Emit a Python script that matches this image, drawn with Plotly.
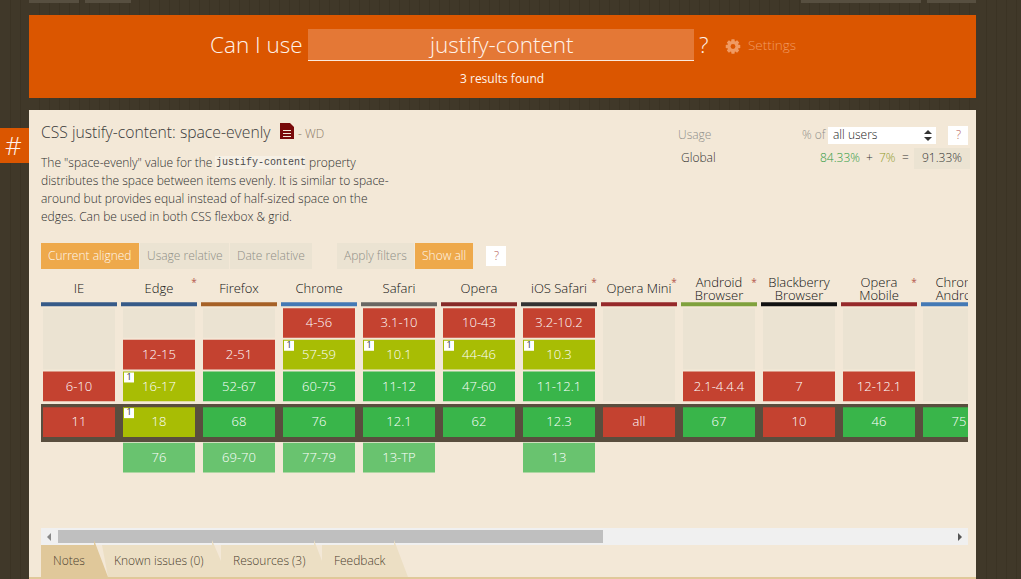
import math
import plotly.graph_objects as go

# browser table, one list per row of the support grid ("" = nothing in that row)
browsers_top = ["", "", "", "", "", "", "", "", "Android", "Blackberry", "Opera", "Chrome"]
browsers_bottom = ["", "", "", "", "", "", "", "", "Browser", "Browser", "Mobile", "Android"]
browsers_single = ["IE", "Edge", "Firefox", "Chrome", "Safari", "Opera", "iOS Safari", "Opera Mini", "", "", "", ""]
browser_stars = [0, 1, 0, 0, 0, 0, 1, 1, 1, 0, 1, 0]
browser_colors = ["#365a88", "#365a88", "#a66126", "#4479b5", "#696763", "#862a28", "#333333",
                  "#96292a", "#7fa13c", "#111111", "#96292a", "#4479b5"]

row1 = ["", "", "", "4-56", "3.1-10", "10-43", "3.2-10.2", "", "", "", "", ""]
row2 = ["", "12-15", "2-51", "57-59", "10.1", "44-46", "10.3", "", "", "", "", ""]
row3 = ["6-10", "16-17", "52-67", "60-75", "11-12", "47-60", "11-12.1", "", "2.1-4.4.4", "7", "12-12.1", ""]
current = ["11", "18", "68", "76", "12.1", "62", "12.3", "all", "67", "10", "46", "75"]
future = ["", "76", "69-70", "77-79", "13-TP", "", "13", "", "", "", "", ""]

status1 = ["", "", "", "n", "n", "n", "n", "", "", "", "", ""]
status2 = ["", "n", "n", "a", "a", "a", "a", "", "", "", "", ""]
status3 = ["n", "a", "y", "y", "y", "y", "y", "", "n", "n", "n", ""]
status_current = ["n", "a", "y", "y", "y", "y", "y", "n", "y", "n", "y", "y"]
status_future = ["", "f", "f", "f", "f", "", "f", "", "", "", "", ""]

rows = [row1, row2, row3, current, future]
statuses = [status1, status2, status3, status_current, status_future]
row_tops = [0, 1, 2, 3.125, 4.25]
cell_h = 30 / 32

status_colors = {"n": "#c44230", "a": "#a8bd04", "y": "#39b54a", "f": "#69c36f"}
BLANK = "#ebe3d2"
PANEL = "#f3e8d7"
DARK = "#403829"
ORANGE = "#db5600"
INK = "#3b3b3b"
FONT = "Open Sans"
LIGHT = 300

fig = go.Figure()

# empty stretches of a column merge into one pale block
blank_x, blank_base, blank_h = [], [], []
for col in range(len(browsers_single)):
    run = 0
    for r in range(3):
        if rows[r][col] == "":
            run += 1
    if run:
        blank_x.append(col)
        blank_base.append(0)
        blank_h.append(run - 2 / 32)
fig.add_trace(go.Bar(x=blank_x, y=blank_h, base=blank_base, width=0.9, marker_color=BLANK,
                     marker_line_width=0, xaxis="x2", yaxis="y2", hoverinfo="skip"))

# version cells, one bar trace per support status
for key, color in status_colors.items():
    xs, tops = [], []
    for r, st in enumerate(statuses):
        for col, s in enumerate(st):
            if s == key:
                xs.append(col)
                tops.append(row_tops[r])
    fig.add_trace(go.Bar(x=xs, y=[cell_h] * len(xs), base=tops, width=0.9, marker_color=color,
                         marker_line_width=0, xaxis="x2", yaxis="y2", hoverinfo="skip"))

# coloured strip under each browser name
fig.add_trace(go.Bar(x=list(range(12)), y=[4 / 32] * 12, base=[-6 / 32] * 12, width=0.95,
                     marker_color=browser_colors, marker_line_width=0,
                     xaxis="x2", yaxis="y2", hoverinfo="skip"))

# version labels
txt_x, txt_y, txt = [], [], []
for r, labels in enumerate(rows):
    for col, lab in enumerate(labels):
        if lab:
            txt_x.append(col)
            txt_y.append(row_tops[r] + cell_h / 2 + 1 / 32)
            txt.append(lab)
fig.add_trace(go.Scatter(x=txt_x, y=txt_y, text=txt, mode="text", xaxis="x2", yaxis="y2",
                         textfont=dict(family=FONT, size=13, color="#ffffff", weight=LIGHT), hoverinfo="skip"))

# browser names
for names, offset in ((browsers_single, -18.3 / 32), (browsers_top, -25 / 32), (browsers_bottom, -11 / 32)):
    pairs = [(i, n) for i, n in enumerate(names) if n]
    fig.add_trace(go.Scatter(x=[p[0] for p in pairs], y=[offset] * len(pairs), text=[p[1] for p in pairs],
                             mode="text", xaxis="x2", yaxis="y2",
                             textfont=dict(family=FONT, size=13, color="#111111", weight=LIGHT),
                             hoverinfo="skip"))

# note asterisks
fig.add_trace(go.Scatter(x=[i + 35 / 80 for i, s in enumerate(browser_stars) if s],
                         y=[-25 / 32] * sum(browser_stars), text=["*"] * sum(browser_stars), mode="text",
                         xaxis="x2", yaxis="y2", textfont=dict(family=FONT, size=10, color="#b5584f"),
                         hoverinfo="skip"))

# "1" note flags on partial-support cells
flag_x, flag_y = [], []
for r, st in enumerate(statuses):
    for col, s in enumerate(st):
        if s == "a":
            flag_x.append(col - 0.45 + 6 / 80)
            flag_y.append(row_tops[r] + 6 / 32)
fig.add_trace(go.Scatter(x=flag_x, y=flag_y, text=["1"] * len(flag_x), mode="markers+text",
                         textposition="middle center", xaxis="x2", yaxis="y2",
                         marker=dict(symbol="square", size=10, color="white"),
                         textfont=dict(family=FONT, size=9, color="#333333"), hoverinfo="skip"))


def box(x0, y0, x1, y1, color):
    fig.add_shape(type="rect", x0=x0, y0=y0, x1=x1, y1=y1, xref="x", yref="y", layer="below",
                  fillcolor=color, line_width=0)


def poly(path, color):
    fig.add_shape(type="path", path=path, xref="x", yref="y", layer="below", fillcolor=color, line_width=0)


def label(x, y, text, size=12, color=INK, anchor="left", family=FONT, weight=LIGHT):
    font = dict(family=family, size=size, color=color, weight=weight)
    fig.add_annotation(x=x, y=y - 1, xref="x", yref="y", text=text, showarrow=False, xanchor=anchor,
                       yanchor="middle", font=font, borderpad=0, borderwidth=0)


def gear(cx, cy, color, hole):
    # settings cog: eight teeth around a hub
    pts = []
    for k in range(8):
        a = k * math.pi / 4
        for da, rad in ((-0.36, 5.4), (-0.2, 7.4), (0.2, 7.4), (0.36, 5.4)):
            pts.append((cx + rad * math.cos(a + da), cy + rad * math.sin(a + da)))
    poly("M " + " L ".join(f"{px:.2f} {py:.2f}" for px, py in pts) + " Z", color)
    fig.add_shape(type="circle", x0=cx - 2.4, y0=cy - 2.4, x1=cx + 2.4, y1=cy + 2.4, xref="x", yref="y",
                  layer="below", fillcolor=hole, line_width=0)


# page background, faint wallpaper stripes
for sx in list(range(10, 30, 10)) + list(range(986, 1021, 10)):
    box(sx, 0, sx + 1, 579, "#3b3324")
for sx in range(39, 976, 10):
    box(sx, 0, sx + 1, 15, "#3b3324")
    box(sx, 98, sx + 1, 110, "#3b3324")

# top tabs
box(29, 0, 79, 3, "#574f40")
box(85, 0, 131, 3, "#574f40")
box(801, 0, 921, 3, "#574f40")
box(927, 0, 976, 3, "#574f40")

# search header
box(29, 15, 976, 98, ORANGE)
box(308, 29, 694, 60, "#e47836")
box(308, 60, 694, 61, "#fbe9dc")
label(210, 45, "Can I use", 22.5, "#fff3ea")
label(501, 45, "justify-content", 22.5, "#fff3ea", "center")
label(699, 45, "?", 22.5, "#fff3ea")
gear(733, 46.5, "#f09a62", ORANGE)
label(748, 46, "Settings", 13.5, "#f09a62")
label(502, 79, "3 results found", 12, "#fff3ea", "center", weight=400)

# main panel
box(29, 110, 976, 579, PANEL)
box(0, 128, 29, 163, ORANGE)
label(13, 146, "#", 26, "#fff3ea", "center")

label(41, 133, "CSS justify-content: space-evenly", 15.7, "#3a3a3a")
poly("M 280 123 L 290 123 L 294 127 L 294 139 L 280 139 Z", "#780a0a")
box(283, 130, 291, 131, "#f3e8d7")
box(283, 133, 291, 134, "#f3e8d7")
box(283, 136, 291, 137, "#f3e8d7")
label(298, 134, "- WD", 12, "#8c7a66")

# description
box(215, 156, 305, 169, "#f6f0e5")
label(41, 163, "The \"space-evenly\" value for the", 12, "#2e2e2e")
label(216, 163, "justify-content", 10, "#4a4a4a", family="Liberation Mono", weight=400)
label(309, 163, "property", 12, "#2e2e2e")
label(41, 181, "distributes the space between items evenly. It is similar to space-", 12, "#2e2e2e")
label(41, 199, "around but provides equal instead of half-sized space on the", 12, "#2e2e2e")
label(41, 217, "edges. Can be used in both CSS flexbox &amp; grid.", 12, "#2e2e2e")

# view buttons
box(41, 243, 139, 269, "#eea94b")
box(140, 243, 229, 269, BLANK)
box(230, 243, 312, 269, BLANK)
box(337, 243, 414, 269, BLANK)
box(415, 243, 473, 269, "#eea94b")
box(486, 246, 506, 266, "white")
label(90, 256, "Current aligned", 12, "#fff8ee", "center")
label(184.5, 256, "Usage relative", 12, "#8f8f87", "center")
label(271, 256, "Date relative", 12, "#8f8f87", "center")
label(375.5, 256, "Apply filters", 12, "#8f8f87", "center")
label(444, 256, "Show all", 12, "#fff8ee", "center")
label(496, 256, "?", 12, "#b5584f", "center")

# usage block
label(678, 135, "Usage", 12, "#8f8f8a")
label(802, 135, "% of", 12, "#8f8f8a")
box(828, 127, 936, 144, "white")
label(833, 135, "all users", 12, "#222222")
poly("M 924 134 L 932 134 L 928 130 Z", "#333333")
poly("M 924 137 L 932 137 L 928 141 Z", "#333333")
box(948, 126, 968, 145, "white")
label(958, 135, "?", 12, "#b5584f", "center")
label(681, 158, "Global", 12, "#333333")
label(820, 158, "84.33%", 12, "#2f9a3f")
label(869, 158, "+", 12, "#333333", "center")
label(879, 158, "7%", 12, "#8f9a2a")
label(905, 158, "=", 12, "#333333", "center")
box(914, 148, 970, 169, BLANK)
label(942, 158, "91.33%", 12, "#333333", "center")

# band behind the current versions
box(41, 404, 968, 442, "#594e3e")

# scrollbar
box(41, 528, 968, 545, "#f0f0f0")
box(58, 530, 603, 543, "#bfbfbf")
poly("M 47 537 L 51 533 L 51 541 Z", "#888888")
poly("M 962 537 L 958 533 L 958 541 Z", "#555555")

# bottom tabs
box(29, 577, 976, 579, "#e0c89a")
poly("M 102 545 L 212 545 L 212 540 L 221 561 L 221 545 L 314 545 L 314 540 L 322 561 L 322 545 L 394 545 L 394 540 L 408 577 L 108 577 Z",
     "#ecdfc4")
poly("M 41 545 L 94 545 L 94 540 L 108 577 L 41 577 Z", "#e0c89a")
label(69, 561, "Notes", 12, "#4d3f30", "center")
label(159, 561, "Known issues (0)", 12, "#4d3f30", "center")
label(269, 561, "Resources (3)", 12, "#4d3f30", "center")
label(360, 561, "Feedback", 12, "#4d3f30", "center")

# half a pixel down so the bars land on the same pixel rows
nudge = 0.5 / 32
hidden = dict(visible=False, fixedrange=True)
fig.update_layout(
    width=1021, height=579, margin=dict(l=0, r=0, t=0, b=0),
    paper_bgcolor=DARK, plot_bgcolor="rgba(0,0,0,0)",
    showlegend=False, barmode="overlay",
    xaxis=dict(range=[0, 1021], domain=[0, 1], **hidden),
    yaxis=dict(range=[579, 0], domain=[0, 1], **hidden),
    xaxis2=dict(range=[-0.475, 11.1125], domain=[41 / 1021, 968 / 1021], anchor="y2", **hidden),
    yaxis2=dict(range=[5.4375 - nudge, -1.1875 - nudge], domain=[1 - 480 / 579, 1 - 270 / 579], anchor="x2", **hidden),
)

fig.write_html("out.html", config={"displayModeBar": False},
               post_script="document.body.style.margin='0';document.body.style.overflow='hidden';")
